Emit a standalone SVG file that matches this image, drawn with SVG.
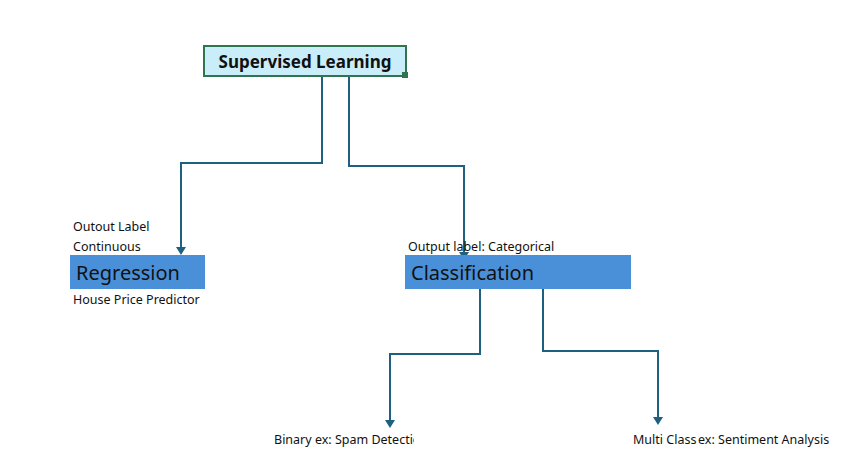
<svg xmlns="http://www.w3.org/2000/svg" width="843" height="469" viewBox="0 0 843 469">
<style>
.c{fill:none;stroke:#1f5f7f;stroke-width:2}
.s{font-family:"Noto Sans","Liberation Sans",sans-serif;font-size:12.5px;fill:#111}
.b{font-family:"Noto Sans","Liberation Sans",sans-serif;font-size:20px;fill:#111}
.box{fill:#4a90d9}
</style>
<defs>
<marker id="a" viewBox="0 0 10 10" refX="5" refY="9" markerWidth="5" markerHeight="5" orient="auto-start-reverse" markerUnits="userSpaceOnUse"><path d="M0,0L10,0L5,10z" fill="#1f5f7f" transform="rotate(0)"/></marker>
<clipPath id="k1"><rect x="260" y="425" width="154" height="30"/></clipPath>
<clipPath id="k2"><rect x="620" y="425" width="77" height="30"/></clipPath>
</defs>
<rect width="843" height="469" fill="#fff"/>
<g id="connectors">
<path class="c" d="M322,76V163H181V248"/>
<path class="c" d="M349,76V166H464V253"/>
<path class="c" d="M480,289V354H390V423"/>
<path class="c" d="M543,289V351H658V420"/>
<path d="M176,247h10l-5,8z M459,252h10l-5,8z M385,420h10l-5,8z M653,417h10l-5,8z" fill="#1f5f7f"/>
</g>
<g id="supervised">
<rect x="204" y="46" width="202" height="30" fill="#c9eefa" stroke="#2e7550" stroke-width="2"/>
<rect x="402" y="72" width="6" height="6" fill="#2e7550"/>
<text x="305" y="68" text-anchor="middle" font-family="'Noto Sans','Liberation Sans',sans-serif" font-size="17" font-weight="bold" fill="#111">Supervised Learning</text>
</g>
<g id="regression">
<text class="s" x="73" y="231">Outout Label</text>
<text class="s" x="73" y="251">Continuous</text>
<rect class="box" x="70" y="255" width="135" height="34"/>
<text class="b" x="76" y="280">Regression</text>
<text class="s" x="73" y="304">House Price Predictor</text>
</g>
<g id="classification">
<text class="s" x="408" y="251">Output label: Categorical</text>
<rect class="box" x="405" y="255" width="226" height="34"/>
<text class="b" x="411" y="280">Classification</text>
</g>
<g id="binary">
<text class="s" x="274" y="444" clip-path="url(#k1)">Binary ex: Spam Detection</text>
</g>
<g id="multi">
<text class="s" x="633" y="444" clip-path="url(#k2)">Multi Class</text>
<text class="s" x="698" y="444">ex: Sentiment Analysis</text>
</g>
</svg>
